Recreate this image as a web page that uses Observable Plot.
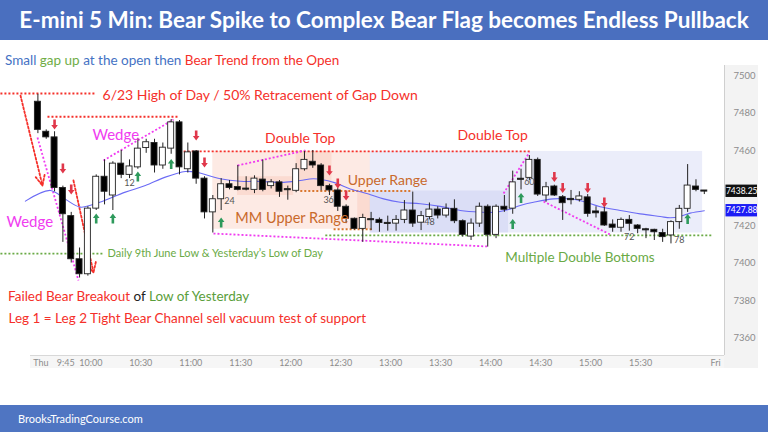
<!DOCTYPE html>
<html>
<head>
<meta charset="utf-8">
<script src="https://cdn.jsdelivr.net/npm/d3@7"></script>
<script src="https://cdn.jsdelivr.net/npm/@observablehq/plot@0.6"></script>
<style>
 html,body{margin:0;padding:0}
 body{width:768px;height:432px;overflow:hidden;position:relative;background:#fff;font-family:Lato,"Open Sans",sans-serif}
 #title{position:absolute;left:0;top:0;width:768px;height:40px;background:#4a6fbf;color:#fff;font-weight:700;font-size:22.5px;line-height:40px;text-align:center;white-space:nowrap}
 #sub{position:absolute;left:5px;top:52px;font-size:13.5px;line-height:16px;white-space:nowrap}
 #foot{position:absolute;left:0;top:405px;width:768px;height:27px;background:#4f75c2;color:#fff;font-size:11px;line-height:27px;padding-left:18px;box-sizing:border-box}
 #axbg{position:absolute;left:724px;top:65px;width:34px;height:303px;background:#f3f3f3}
 #axbg2{position:absolute;left:30px;top:355px;width:694px;height:13px;background:#f6f6f6}
 #chart{position:absolute;left:0;top:41px}
 #failed{position:absolute;left:8px;top:288px;font-size:13.5px;line-height:16px;white-space:nowrap}
</style>
</head>
<body>
<div id="title">E-mini 5 Min: Bear Spike to Complex Bear Flag becomes Endless Pullback</div>
<div id="axbg"></div>
<div id="axbg2"></div>
<div id="chart"></div>
<div id="sub"><span style="color:#4472c4">Small </span><span style="color:#70ad47">gap up </span><span style="color:#4472c4">at the open then </span><span style="color:#f5302a">Bear Trend from the Open</span></div>
<div id="failed"><span style="color:#f5302a">Failed Bear Breakout </span><span style="color:#222">of </span><span style="color:#5a9e3a">Low of Yesterday</span></div>
<div id="foot">BrooksTradingCourse.com</div>
<script>
// ---------- data ----------
const bars = d3.range(1, 82); // 5-minute bars, 9:30 .. 16:10
const opens = [7486,7470,7467,7440,7425,7402,7394,7429,7446,7436,
 7453,7447,7451,7461.3,7464,7452,7461,7475,7450,7459.5,
 7445,7427,7434,7442,7440.5,7439.5,7439,7444.5,7441,7443,
 7439.2,7438.5,7450,7454,7452,7441,7438.7,7430,7423.6,7418.2,
 7423.2,7423,7421.2,7421,7423,7428,7421.5,7424.5,7428.5,7425.3,
 7428.9,7422.3,7414.1,7421,7430,7415,7430,7429,7444.8,7445.4,
 7455,7436,7440.8,7435.1,7434.2,7433.7,7435,7427.5,7427,7420.5,
 7418.8,7423,7420,7417.8,7417.7,7416,7414.7,7421.8,7428.9,7440.8,7438.5];
const highs = [7490,7471,7470,7441,7427,7408,7430,7447,7455,7454,
 7460,7455,7466.5,7466,7466,7464,7476.5,7476,7464,7460,
 7446,7436,7445,7444,7452,7446,7446.5,7455,7444.5,7444,
 7441,7453,7459.5,7460,7453,7442,7440,7431,7424,7426,
 7427,7424,7425,7425.3,7433.3,7437.8,7427.5,7432,7430,7431.5,
 7433.7,7423,7423.5,7432,7431,7431,7436,7449,7450,7457.3,
 7456,7443,7441.5,7436,7438.7,7438,7436.5,7430,7430,7423,
 7424,7425.3,7420.5,7418.5,7418,7418,7422.5,7430.7,7452.5,7444.4,7438.6];
const lows = [7469,7466,7438,7411,7400,7392,7393,7428,7431,7428,
 7445,7445,7450,7458.5,7448,7450,7458,7447,7448,7442,
 7423.5,7416,7428,7439,7438.5,7438.5,7437,7438,7439.5,7435,
 7433.5,7437.5,7449,7450.5,7438.5,7436,7427.5,7421,7417.5,7411,
 7417.3,7416.4,7417,7417,7421,7419,7417.3,7423,7423.5,7424,
 7421,7413.8,7412,7419,7408.5,7413,7427,7426,7439,7444,
 7435.5,7432.4,7435.5,7422.7,7431,7432.5,7424.4,7424,7419.5,7416.4,
 7416.4,7417,7415.6,7413,7412,7411,7410.2,7418,7427,7438,7436.5];
const closes = [7471,7467,7440,7426,7402,7394,7429,7446,7438,7453,
 7447,7451.5,7461,7464.4,7452,7461.5,7475,7451,7459,7445,
 7427,7434,7442,7440,7439,7439.3,7445,7439,7443,7438,
 7439,7450,7455,7452,7441,7438.7,7430,7423.6,7418.2,7424,
 7423,7421.3,7421,7423,7428,7421,7425,7428.5,7425.3,7428.9,
 7422.3,7415,7421,7430,7415,7430,7428.4,7443,7444.5,7455,
 7436.5,7440.4,7436,7431.9,7433.5,7435.5,7426.2,7426.5,7420,7418.8,
 7423,7420.9,7418.2,7417.6,7416.4,7413.8,7421.8,7428.9,7441.3,7439,7438.25];

// moving average
const emaBars = [-0.5,2.5,4.3,6.1,7.9,11.5,13.9,16.3,18.7,19.9,22.9,25.3,27.7,30.5,32.5,34.1,36.5,38.5,40.6,42.5,44.5,46.9,49.3,51.7,54.1,55.7,57.4,58.9,60.5,62.9,65.3,66.7,68.5,70.9,73.3,75.7,76.9,78.1,79.3,81];
const emaVals = [7433,7438.7,7434,7429.8,7431.6,7437.8,7441.3,7445.8,7448.8,7448.5,7444.9,7443.6,7443.5,7443,7444,7444.9,7443,7439.5,7436.9,7434.2,7432.4,7431.6,7430.2,7428,7427.1,7427,7428.4,7430.7,7432.4,7434.2,7434,7432.5,7430,7428,7426.2,7424.8,7424.1,7424.8,7426.6,7427.9];

// axes (7440 sits under the last-price box, so it is not shown)
const yTicks = [7360,7380,7400,7420,7460,7480,7500];
const xTickMinutes = [0,15,30,60,90,120,150,180,210,240,270,300,330,360,405];
const xTickLabels = ["Thu","9:45","10:00","10:30","11:00","11:30","12:00","12:30","13:00","13:30","14:00","14:30","15:00","15:30","Fri"];
const lastPrice = 7438.25, emaLast = 7427.88;

// signal arrows: [bar, price at arrow centre]
const redArrowBars = [3,4,5,20,21,36,37,38,63,64,67,69];
const redArrowPrices = [7473.9,7450.4,7439.2,7468,7453.6,7449.3,7442.4,7436,7445.9,7440,7440,7432.3];
const greenArrowBars = [8,10,13,17,23,58,59,79];
const greenArrowPrices = [7423.7,7423.7,7446.1,7452.8,7421.6,7420.8,7434.7,7423.5];

// bar count labels
const countText = ["12","24","36","48","60","72","78"];
const countBars = [12,24,35.9,48,60,72,78];
const countPrices = [7442.4,7432.8,7433.3,7421.6,7443,7413.6,7412];

// shaded zones [bar1, bar2, price1, price2]
const pinkZones = [[22,40.9,7459.5,7418],[24.96,31.7,7446,7436],[32,36.3,7459.5,7438.4],[39.4,40.9,7438.4,7418]];
const blueZones = [[40.9,80.8,7459.5,7416],[40.9,57.5,7438.4,7416]];

// dotted lines [bar1, price1, bar2, price2]
const redLines = [[-3.5,7490.4,8.0,7490.4],[2.15,7478,17.8,7478],[18.5,7459.5,60.1,7459.5]];
const redArrowLines = [[-1.09,7489.3,1.55,7441.3],[5.27,7444,7.67,7394.9]];
const magentaLines = [[0.95,7466.9,5.87,7390.7],[8.87,7454.7,17.28,7476.5],[24.96,7452,33.1,7460],[22.08,7415.7,55.0,7408.8],[56.9,7437.1,60.0,7458.9],[61.7,7432.8,69.7,7415.2]];
const orangeLines = [[32.5,7438.4,45.96,7438.4],[36.5,7418,41.2,7418]];
const greenLines = [[-3.5,7405,8.9,7405],[35.5,7414.7,81.98,7414.7]];

// text notes
const noteText = ["6/23 High of Day / 50% Retracement of Gap Down","Wedge","Wedge","Daily 9th June Low & Yesterday\u2019s Low of Day","Double Top","Double Top","Upper Range","MM Upper Range","Multiple Double Bottoms","Leg 1 = Leg 2 Tight Bear Channel sell vacuum test of support"];
const noteBars = [8.76,7.55,-2.77,9.37,32.5,55.6,38.2,24.7,57.1,-2.53];
const notePrices = [7489.3,7468,7421.6,7405,7466.4,7468,7444,7423.7,7402.9,7370.4];
const noteColors = ["#f5302a","#f03cf0","#f03cf0","#6aaa46","#f5302a","#f5302a","#c9692b","#c9692b","#6aaa46","#f5302a"];
const noteSizes = [14,15,15,11,14,14,14,14.5,13.5,13.5];
const noteAnchors = ["start","start","start","start","middle","middle","start","start","start","start"];

// ---------- build ----------
const candles = bars.map((n, i) => {
  let lo = Math.min(opens[i], closes[i]), hi = Math.max(opens[i], closes[i]);
  if (hi - lo < 0.5) { const m = (hi + lo) / 2; lo = m - 0.3; hi = m + 0.3; }
  return {n, o: opens[i], h: highs[i], l: lows[i], c: closes[i], lo, hi, up: closes[i] >= opens[i]};
});
const ema = emaBars.map((b, i) => ({b, v: emaVals[i]}));
const xTicks = xTickMinutes.map(m => 1 + m / 5 + 0.35);
const xLabelMap = new Map(xTicks.map((t, i) => [t, xTickLabels[i]]));
const seg = a => a.map(([x1, y1, x2, y2]) => ({x1, y1, x2, y2}));
const zone = a => a.map(([x1, x2, y1, y2]) => ({x1, x2, y1, y2}));
const notes = noteText.map((t, i) => ({t, b: noteBars[i], p: notePrices[i], c: noteColors[i], s: noteSizes[i], a: noteAnchors[i]}));

const pxPerBar = 8.33;
const xDomain = [1 - 37.4 / pxPerBar, 1 + (724 - 37.4) / pxPerBar];
const yDomain = [7500 - 280 / 1.875, 7500 + 10 / 1.875];
const xR = xDomain[1];
const priceBoxes = [{v: lastPrice, fill: "#111"}, {v: emaLast, fill: "#1c1cf5"}];

const downArrow = {draw(ctx) {
  ctx.moveTo(0, 5); ctx.lineTo(3.3, 0.6); ctx.lineTo(1.3, 0.6); ctx.lineTo(1.3, -5);
  ctx.lineTo(-1.3, -5); ctx.lineTo(-1.3, 0.6); ctx.lineTo(-3.3, 0.6); ctx.closePath();
}};
const upArrow = {draw(ctx) {
  ctx.moveTo(0, -5); ctx.lineTo(3.3, -0.6); ctx.lineTo(1.3, -0.6); ctx.lineTo(1.3, 5);
  ctx.lineTo(-1.3, 5); ctx.lineTo(-1.3, -0.6); ctx.lineTo(-3.3, -0.6); ctx.closePath();
}};

const dotted = {strokeDasharray: "2,2", strokeWidth: 1.8};
const plot = Plot.plot({
  width: 768, height: 364,
  marginLeft: 0, marginRight: 44, marginTop: 24, marginBottom: 50,
  x: {domain: xDomain, axis: null},
  y: {domain: yDomain, axis: null},
  style: {background: "transparent", fontFamily: "Lato, 'Open Sans', sans-serif"},
  marks: [
    Plot.rect(zone(pinkZones), {x1: "x1", x2: "x2", y1: "y1", y2: "y2", fill: "#f7b9a6", fillOpacity: 0.3}),
    Plot.rect(zone(blueZones), {x1: "x1", x2: "x2", y1: "y1", y2: "y2", fill: "#9aa6e6", fillOpacity: 0.2}),
    Plot.ruleX([xR], {stroke: "#cfcfcf"}),
    Plot.ruleY([yDomain[0]], {x1: 1 - 7.4 / pxPerBar, x2: xR, stroke: "#d8d8d8"}),
    Plot.axisY(yTicks, {anchor: "right", tickSize: 0, tickPadding: 9, fontSize: 9.5, color: "#8c8c8c", label: null, tickFormat: d => String(d)}),
    Plot.axisX(xTicks, {anchor: "bottom", tickSize: 0, tickPadding: 4, fontSize: 9, color: "#8c8c8c", label: null, tickFormat: d => xLabelMap.get(d)}),
    Plot.link(seg(redLines), {x1: "x1", y1: "y1", x2: "x2", y2: "y2", stroke: "#f5302a", ...dotted}),
    Plot.link(seg(greenLines), {x1: "x1", y1: "y1", x2: "x2", y2: "y2", stroke: "#6aaa46", ...dotted}),
    Plot.link(seg(orangeLines), {x1: "x1", y1: "y1", x2: "x2", y2: "y2", stroke: "#d9772f", ...dotted}),
    Plot.link(seg(magentaLines), {x1: "x1", y1: "y1", x2: "x2", y2: "y2", stroke: "#f03cf0", ...dotted}),
    Plot.arrow(seg(redArrowLines), {x1: "x1", y1: "y1", x2: "x2", y2: "y2", stroke: "#f5302a", headLength: 9, headAngle: 50, ...dotted}),
    Plot.line(ema, {x: "b", y: "v", stroke: "#6b6bf5", strokeWidth: 1.1, curve: "catmull-rom"}),
    Plot.ruleX(candles, {x: "n", y1: "l", y2: "h", stroke: "#222", strokeWidth: 1}),
    Plot.rect(candles, {x1: d => d.n - 0.36, x2: d => d.n + 0.36, y1: "lo", y2: "hi", fill: d => d.up ? "#fff" : "#000", stroke: "#222", strokeWidth: 0.9}),
    Plot.dot(redArrowBars.map((b, i) => ({b, p: redArrowPrices[i]})), {x: "b", y: "p", symbol: downArrow, fill: "#e0374a", stroke: null}),
    Plot.dot(greenArrowBars.map((b, i) => ({b, p: greenArrowPrices[i]})), {x: "b", y: "p", symbol: upArrow, fill: "#2e9a5c", stroke: null}),
    Plot.text(countText.map((t, i) => ({t, b: countBars[i], p: countPrices[i]})), {x: "b", y: "p", text: "t", fontSize: 9, fill: "#555"}),
    ...notes.map(n => Plot.text([n], {x: "b", y: "p", text: "t", fill: "c", fontSize: n.s, textAnchor: n.a})),
    Plot.rect(priceBoxes, {x1: xR + 1.5 / pxPerBar, x2: xR + 33 / pxPerBar, y1: d => d.v - 3.3, y2: d => d.v + 3.3, fill: "fill"}),
    Plot.text(priceBoxes, {x: xR + 17.2 / pxPerBar, y: "v", text: d => d.v.toFixed(2), fill: "#fff", fontSize: 8.5})
  ]
});
document.getElementById("chart").appendChild(plot);
</script>
</body>
</html>
